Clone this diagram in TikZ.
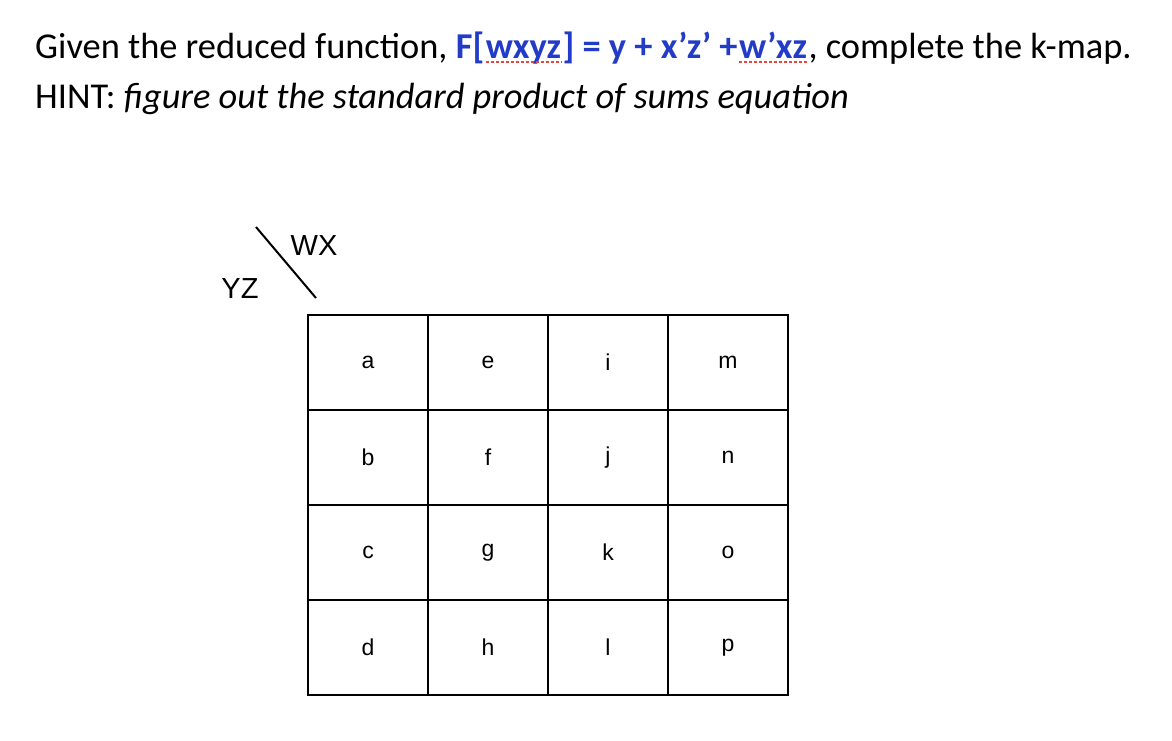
\documentclass[tikz,border=0pt]{standalone}
\usepackage{fontspec}
\setmainfont{Carlito}
\newfontfamily\arialfont{Liberation Sans}
\usetikzlibrary{positioning}

\definecolor{eqblue}{RGB}{35,60,200}
\definecolor{ulred}{RGB}{230,70,60}
\newcommand\redul[1]{\tikz[baseline=(t.base)]{\node[inner sep=0pt] (t) {#1};
  \draw[ulred, dash pattern=on 3pt off 2pt, line width=2.5pt] ([yshift=-4pt]t.base west) -- ([yshift=-4pt]t.base east);}}

\begin{document}
\begin{tikzpicture}[x=1pt, y=-1pt,
  cell/.style = {draw, line width=2pt, minimum width=120pt, minimum height=95pt, inner sep=0pt, font=\arialfont\fontsize{23}{26}\selectfont},
  title/.style = {anchor=base west, inner sep=0pt, font=\fontsize{36.4}{40}\selectfont},
  axis/.style = {font=\arialfont\fontsize{29}{32}\selectfont, inner sep=0pt}
]
\useasboundingbox (0,0) rectangle (1172,740);

% Question text
\node[title] (q1) at (35,58) {Given the reduced function, {\bfseries\color{eqblue}F[\redul{wxyz}] = y + x’z’ +\redul{w’xz}}, complete the k-map.};
\node[title] (q2) at (35,108) {HINT: \textit{figure out the standard product of sums equation}};

% Corner labels
\coordinate (d1) at (256,227);
\coordinate (d2) at (316,298);
\draw[line width=2pt] (d1) -- (d2);
\node[axis] (wx) at (314,246) {WX};
\node[axis] (yz) at (240,289) {YZ};

% K-map cells
\foreach \col/\letters [count=\c from 0] in {0/{a,b,c,d}, 1/{e,f,g,h}, 2/{i,j,k,l}, 3/{m,n,o,p}} {
  \foreach \t [count=\r from 0] in \letters {
    \node[cell] (k\c\r) at ({368+120*\c},{362.5+95*\r}) {\t};
  }
}
\end{tikzpicture}
\end{document}
